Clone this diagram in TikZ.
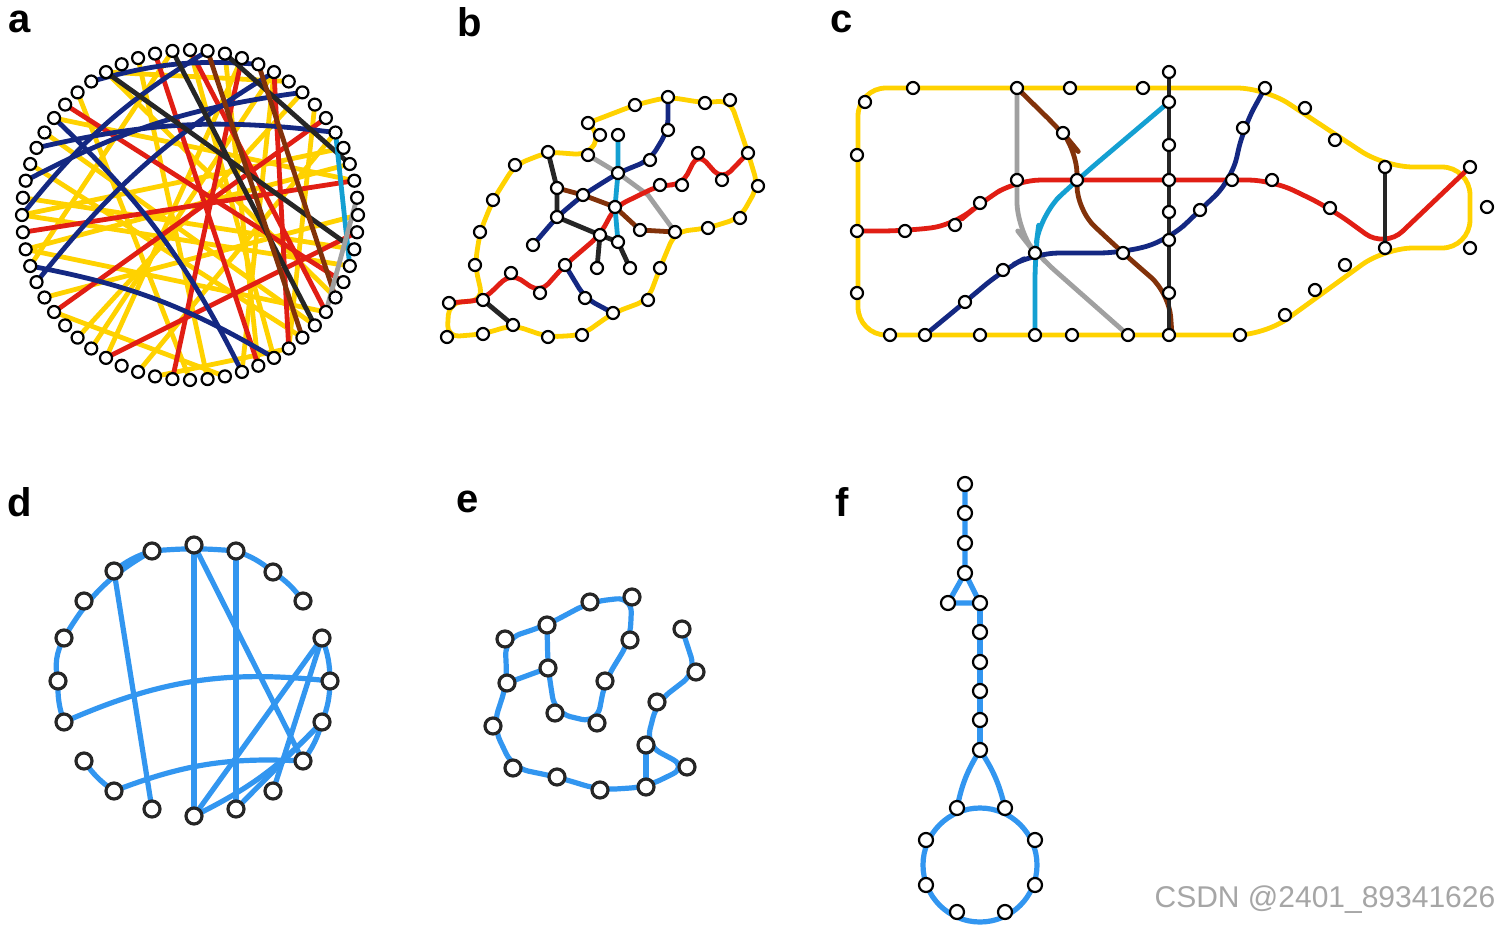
\documentclass[tikz,border=0pt]{standalone}
\usepackage{fontspec}
\setmainfont{Liberation Sans}
\begin{document}
\begin{tikzpicture}[x=0.5pt,y=-0.5pt,
  ln/.style={line width=2.4pt,line join=round,line cap=round},
  lnb/.style={line width=2.6pt,line join=round,line cap=round,color=bl},
  st/.style={circle,draw=black,fill=white,line width=1.1pt,inner sep=0pt,minimum size=6pt},
  stb/.style={circle,draw=black!85,fill=white,line width=1.6pt,inner sep=0pt,minimum size=8pt},
  lab/.style={font=\bfseries\fontsize{20}{20}\selectfont,anchor=center}]
\definecolor{ye}{RGB}{255,210,0}
\definecolor{re}{RGB}{225,30,20}
\definecolor{nv}{RGB}{20,40,130}
\definecolor{br}{RGB}{130,50,10}
\definecolor{cy}{RGB}{20,160,210}
\definecolor{gr}{RGB}{160,160,160}
\definecolor{bl}{RGB}{50,150,240}
\useasboundingbox (0,0) rectangle (1500,927);
\fill[white] (0,0) rectangle (1500,927);
% labels
\node[lab] (la) at (20,22) {a};
\node[lab] (lb) at (470,22) {b};
\node[lab] (lc) at (842,22) {c};
\node[lab] (ld) at (20,502) {d};
\node[lab] (le) at (468,502) {e};
\node[lab] (lf) at (842,502) {f};
\node[text=black!35,font=\fontsize{15}{15}\selectfont] (wm) at (1325,900) {CSDN @2401\_89341626};
% ---------- panel a
\foreach \i in {0,...,59} \coordinate (pa\i) at ({190+168*cos(6*\i)},{215+165*sin(6*\i)});
\foreach \a/\b in {0/25,3/30,5/40,8/33,10/45,12/50,15/38,18/55,20/48,22/52,28/57,31/2,35/7,42/14,44/27,47/11,50/21,53/9,56/30,58/36,13/24,40/51,6/28,9/17}
  \draw[ln,ye] (pa\a) -- (pa\b);
\foreach \a/\b in {1/20,4/37,6/45,9/50,16/48,24/54,29/58,11/43}
  \draw[ln,re] (pa\a) -- (pa\b);
\foreach \a/\b in {26/50,30/46,32/52,34/55,36/12,39/49,27/10}
  \draw[ln,nv] (pa\a) to[bend left=10] (pa\b);
\foreach \a/\b in {7/44,2/40,57/47} \draw[ln,black!85] (pa\a) -- (pa\b);
\foreach \a/\b in {5/49,8/46} \draw[ln,br] (pa\a) -- (pa\b);
\draw[ln,cy] (pa55) -- (pa3);
\draw[ln,gr] (pa59) -- (pa6);
\foreach \i in {0,...,59} \node[st] (na\i) at (pa\i) {};
% ---------- panel b
\foreach \n/\x/\y in {b1/588/123,b2/635/105,b3/668/97,b4/705/103,b5/730/100,b6/748/153,b7/758/186,b8/740/218,b9/708/228,b10/675/232,b11/660/268,b12/648/300,b13/613/313,b14/582/335,b15/548/337,b16/513/325,b17/483/334,b18/447/337,b19/449/303,b20/483/300,b21/475/265,b22/480/232,b23/493/200,b24/515/165,b25/548/152,b26/588/155,b27/600/135,
 b28/511/273,b29/540/293,b30/565/265,b31/600/235,b32/615/207,b33/660/185,b34/682/185,b35/698/153,b36/722/180,
 b37/533/245,b38/557/217,b39/583/195,b40/618/173,b41/650/160,b42/668/130,b43/585/298,b44/597/268,b45/630/268,b46/618/242,b47/618/135,b48/640/230,b49/557/188}
  \coordinate (\n) at (\x,\y);
\draw[ln,ye,rounded corners=6] (b1)--(b2)--(b3)--(b4)--(b5)--(b6)--(b7)--(b8)--(b9)--(b10)--(b11)--(b12)--(b13)--(b14)--(b15)--(b16)--(b17)--(b18)--(b19)--(b20)--(b21)--(b22)--(b23)--(b24)--(b25)--(b26)--(b27)--(b1);
\draw[ln,gr] (b26)--(b40)--(648,195)--(b10);
\draw[ln,br] (b49)--(b39)--(b32)--(b48)--(b10);
\draw[ln,re,rounded corners=6] (b19)--(b20)--(b28)--(b29)--(b30)--(b31)--(b32)--(b33)--(b34)--(b35)--(b36)--(b6);
\draw[ln,nv,rounded corners=6] (b37)--(b38)--(b39)--(b40)--(b41)--(b42)--(b3);
\draw[ln,nv,rounded corners=6] (b30)--(b43)--(b13);
\draw[ln,black!85] (b25)--(b49)--(b38)--(b31)--(b44);
\draw[ln,black!85] (b31)--(b46)--(b45);
\draw[ln,black!85] (b20)--(b16);
\draw[ln,cy] (b47)--(b40)--(b32)--(b46);
\foreach \n in {1,...,49} \node[st] (nb\n) at (b\n) {};
% ---------- panel c
\foreach \n/\x/\y in {c1/865/102,c2/913/88,c3/1017/88,c4/1070/88,c5/1143/88,c6/1169/72,c7/1169/102,c8/1265/88,c9/1305/108,c10/1335/140,c11/1385/167,c12/1470/167,c13/1487/207,c14/1470/248,c15/1385/248,c16/1345/265,c17/1315/290,c18/1285/315,c19/1240/335,c20/890/335,c21/925/335,c22/980/335,c23/1035/335,c24/1072/335,c25/1128/335,c26/1169/335,c27/857/155,c28/857/231,c29/857/293,
 c30/905/231,c31/955/225,c32/980/203,c33/1017/180,c34/1077/180,c35/1169/180,c36/1232/180,c37/1272/180,c38/1330/208,
 c39/1169/240,c40/1169/293,c41/1063/133,c42/1035/253,c43/1123/253,c44/1200/210,c45/1243/128,c46/1003/270,c47/965/302,c48/1169/145,c49/1169/212}
  \coordinate (\n) at (\x,\y);
\draw[ln,ye,rounded corners=14] (858,88)--(1265,88)--(1385,167)--(1470,167)--(1470,248)--(1385,248)--(1265,335)--(858,335)--cycle;
\draw[ln,gr,rounded corners=14] (c3)--(1017,230)--(c42)--(c25);
\draw[ln,br,rounded corners=12] (c3)--(c41)--(1077,150)--(1077,210)--(c43)--(c40)--(1172,335);
\draw[ln,cy,rounded corners=14] (c7)--(c34)--(1040,215)--(c42)--(c23);
\draw[ln,re,rounded corners=12] (c28)--(c30)--(c31)--(c32)--(c33)--(c37)--(c38)--(c15)--(c12);
\draw[ln,nv,rounded corners=12] (c21)--(c47)--(c46)--(c42)--(c43)--(c39)--(c44)--(c36)--(c45)--(c8);
\draw[ln,black!85] (c6)--(c26);
\draw[ln,black!85] (c11)--(c15);
\foreach \n in {1,...,49} \node[st] (nc\n) at (c\n) {};
% ---------- panel d
\foreach \i/\x/\y in {1/152/551,2/194/545,3/236/551,4/273/572,5/303/601,6/322/638,7/330/681,8/322/722,9/303/761,10/273/791,11/236/809,12/194/816,13/152/809,14/114/791,15/84/761,16/64/722,17/58/681,18/64/638,19/84/601,20/114/571}
  \coordinate (d\i) at (\x,\y);
\draw[lnb] (d20)--(d13);
\draw[lnb] (d20) to[bend left=10] (d1) to[bend left=5] (d3);
\draw[lnb] (d2)--(d12);
\draw[lnb] (d3)--(d11);
\draw[lnb] (d18) to[bend left=15] (d1);
\draw[lnb] (d3) to[bend left=10] (d4) to[bend left=10] (d5);
\draw[lnb] (d2)--(d9);
\draw[lnb] (d16) to[bend left=15] (d7);
\draw[lnb] (d14) to[bend left=12] (d9);
\draw[lnb] (d12)--(d6);
\draw[lnb] (d11)--(d8);
\draw[lnb] (d6)--(d10);
\draw[lnb] (d6) to[bend left=10] (d7) to[bend left=10] (d8) to[bend left=10] (d9);
\draw[lnb] (d17) to[bend left=20] (d18);
\draw[lnb] (d17) to[bend right=10] (d16);
\draw[lnb] (d15) to[bend right=10] (d14);
\draw[lnb] (d12) to[bend right=10] (d8);
\foreach \i in {1,...,20} \node[stb] (nd\i) at (d\i) {};
% ---------- panel e
\foreach \i/\x/\y in {1/682/629,2/696/672,3/657/702,4/646/745,5/687/767,6/646/787,7/600/790,8/557/777,9/513/768,10/493/726,11/507/683,12/505/639,13/547/625,14/590/602,15/632/597,16/630/640,17/605/681,18/597/723,19/555/713,20/548/668}
  \coordinate (e\i) at (\x,\y);
\draw[lnb,rounded corners=8] (e1)--(e2)--(e3)--(e4)--(e5)--(e6)--(e7)--(e8)--(e9)--(e10)--(e11)--(e12)--(e13)--(e14)--(e15)--(e16)--(e17)--(e18)--(e19)--(e20)--(e13);
\draw[lnb] (e4)--(e6);
\draw[lnb] (e11)--(e20);
\foreach \i in {1,...,20} \node[stb] (ne\i) at (e\i) {};
% ---------- panel f
\foreach \i/\x/\y in {1/965/484,2/965/513,3/965/543,4/965/573,5/948/603,6/980/603,7/980/632,8/980/662,9/980/691,10/980/720,11/980/750,12/957/808,13/1005/808,14/1035/840,15/1035/885,16/1005/912,17/957/912,18/926/885,19/926/840}
  \coordinate (f\i) at (\x,\y);
\draw[lnb] (f1)--(f4)--(f5)--(f6)--(f4);
\draw[lnb] (f6)--(f11);
\draw[lnb] (f11) to[bend right=10] (f12);
\draw[lnb] (f11) to[bend left=10] (f13);
\draw[lnb] (980,865) circle (57);
\foreach \i in {1,...,19} \node[st,minimum size=7pt] (nf\i) at (f\i) {};
\end{tikzpicture}
\end{document}
